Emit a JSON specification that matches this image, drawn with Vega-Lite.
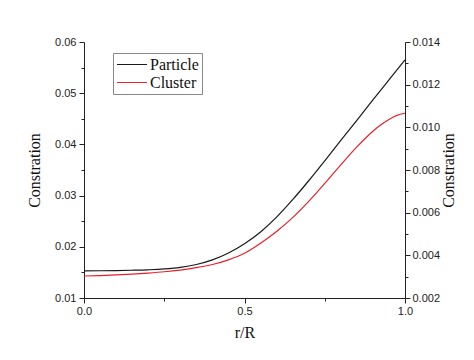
{
  "$schema": "https://vega.github.io/schema/vega-lite/v6.json",
  "width": 321,
  "height": 256,
  "autosize": "none",
  "padding": {"left": 84, "top": 42, "right": 69, "bottom": 62},
  "background": "white",
  "config": {
    "view": {"stroke": null},
    "axis": {
      "labelFont": "Liberation Sans",
      "labelFontSize": 11,
      "labelColor": "#222",
      "titleFont": "Liberation Serif",
      "titleFontSize": 16,
      "titleFontWeight": "normal",
      "titleColor": "#111",
      "domainColor": "#222",
      "tickColor": "#222",
      "grid": false
    }
  },
  "datasets": {
    "curves": [
      {"series": "Particle", "r": 0.0, "c": 0.0153},
      {"series": "Particle", "r": 0.05, "c": 0.01532},
      {"series": "Particle", "r": 0.1, "c": 0.01536},
      {"series": "Particle", "r": 0.15, "c": 0.01542},
      {"series": "Particle", "r": 0.2, "c": 0.01551},
      {"series": "Particle", "r": 0.25, "c": 0.01567},
      {"series": "Particle", "r": 0.3, "c": 0.01598},
      {"series": "Particle", "r": 0.35, "c": 0.01655},
      {"series": "Particle", "r": 0.4, "c": 0.01745},
      {"series": "Particle", "r": 0.45, "c": 0.0188},
      {"series": "Particle", "r": 0.5, "c": 0.0206},
      {"series": "Particle", "r": 0.55, "c": 0.0229},
      {"series": "Particle", "r": 0.6, "c": 0.0258},
      {"series": "Particle", "r": 0.65, "c": 0.0292},
      {"series": "Particle", "r": 0.7, "c": 0.0329},
      {"series": "Particle", "r": 0.75, "c": 0.0368},
      {"series": "Particle", "r": 0.8, "c": 0.0408},
      {"series": "Particle", "r": 0.85, "c": 0.0447},
      {"series": "Particle", "r": 0.9, "c": 0.0487},
      {"series": "Particle", "r": 0.95, "c": 0.0526},
      {"series": "Particle", "r": 1.0, "c": 0.0565},
      {"series": "Cluster", "r": 0.0, "c": 0.00303},
      {"series": "Cluster", "r": 0.05, "c": 0.00305},
      {"series": "Cluster", "r": 0.1, "c": 0.00308},
      {"series": "Cluster", "r": 0.15, "c": 0.00312},
      {"series": "Cluster", "r": 0.2, "c": 0.00317},
      {"series": "Cluster", "r": 0.25, "c": 0.00323},
      {"series": "Cluster", "r": 0.3, "c": 0.00331},
      {"series": "Cluster", "r": 0.35, "c": 0.00342},
      {"series": "Cluster", "r": 0.4, "c": 0.00357},
      {"series": "Cluster", "r": 0.45, "c": 0.00379},
      {"series": "Cluster", "r": 0.5, "c": 0.00410},
      {"series": "Cluster", "r": 0.55, "c": 0.00457},
      {"series": "Cluster", "r": 0.6, "c": 0.00512},
      {"series": "Cluster", "r": 0.65, "c": 0.00577},
      {"series": "Cluster", "r": 0.7, "c": 0.00653},
      {"series": "Cluster", "r": 0.75, "c": 0.00737},
      {"series": "Cluster", "r": 0.8, "c": 0.00824},
      {"series": "Cluster", "r": 0.85, "c": 0.00908},
      {"series": "Cluster", "r": 0.9, "c": 0.00982},
      {"series": "Cluster", "r": 0.925, "c": 0.01012},
      {"series": "Cluster", "r": 0.95, "c": 0.01037},
      {"series": "Cluster", "r": 0.975, "c": 0.01056},
      {"series": "Cluster", "r": 1.0, "c": 0.01066}
    ]
  },
  "data": {"name": "curves"},
  "layer": [
    {
      "transform": [{"filter": "datum.series === 'Particle'"}],
      "mark": {"type": "line", "interpolate": "monotone", "strokeWidth": 1.2},
      "encoding": {
        "x": {
          "field": "r", "type": "quantitative",
          "scale": {"domain": [0, 1], "nice": false},
          "axis": {
            "title": "r/R",
            "values": [0, 0.25, 0.5, 0.75, 1],
            "labelExpr": "datum.value === 0.25 || datum.value === 0.75 ? '' : format(datum.value, '.1f')",
            "tickSize": {"condition": {"test": "datum.value === 0.25 || datum.value === 0.75", "value": 3}, "value": 5},
            "labelPadding": 2,
            "titlePadding": 8,
            "labelFlush": false
          }
        },
        "y": {
          "field": "c", "type": "quantitative",
          "scale": {"domain": [0.01, 0.06], "nice": false, "zero": false},
          "axis": {
            "title": "Constration",
            "orient": "left",
            "values": [0.01, 0.015, 0.02, 0.025, 0.03, 0.035, 0.04, 0.045, 0.05, 0.055, 0.06],
            "labelExpr": "abs(datum.value * 100 - round(datum.value * 100)) < 0.01 ? format(datum.value, '.2f') : ''",
            "tickSize": {"condition": {"test": "abs(datum.value * 100 - round(datum.value * 100)) > 0.01", "value": 3}, "value": 5},
            "labelPadding": 3,
            "titlePadding": 12,
            "labelFlush": false
          }
        },
        "color": {
          "field": "series", "type": "nominal",
          "scale": {"domain": ["Particle", "Cluster"], "range": ["#1a1a1a", "#e8202a"]},
          "legend": {
            "title": null,
            "orient": "none",
            "legendX": 29,
            "legendY": 11,
            "symbolType": "stroke",
            "symbolSize": 900,
            "symbolStrokeWidth": 1.2,
            "clipHeight": 17,
            "labelFont": "Liberation Serif",
            "labelFontSize": 16,
            "labelColor": "#111",
            "strokeColor": "#888",
            "padding": 3,
            "rowPadding": 1,
            "labelOffset": 2
          }
        }
      }
    },
    {
      "transform": [{"filter": "datum.series === 'Cluster'"}],
      "mark": {"type": "line", "interpolate": "monotone", "strokeWidth": 1.2},
      "encoding": {
        "x": {"field": "r", "type": "quantitative", "scale": {"domain": [0, 1], "nice": false}},
        "y": {
          "field": "c", "type": "quantitative",
          "scale": {"domain": [0.002, 0.014], "nice": false, "zero": false},
          "axis": {
            "title": "Constration",
            "orient": "right",
            "titleAngle": 270,
            "titleX": 43,
            "titleY": 128,
            "titleAlign": "center",
            "titleBaseline": "middle",
            "values": [0.002, 0.003, 0.004, 0.005, 0.006, 0.007, 0.008, 0.009, 0.01, 0.011, 0.012, 0.013, 0.014],
            "labelExpr": "round(datum.value * 1000) % 2 === 0 ? format(datum.value, '.3f') : ''",
            "tickSize": {"condition": {"test": "round(datum.value * 1000) % 2 === 1", "value": 3}, "value": 5},
            "labelPadding": 2,
            "labelFlush": false
          }
        },
        "color": {"field": "series", "type": "nominal"}
      }
    }
  ],
  "resolve": {"scale": {"y": "independent"}}
}
